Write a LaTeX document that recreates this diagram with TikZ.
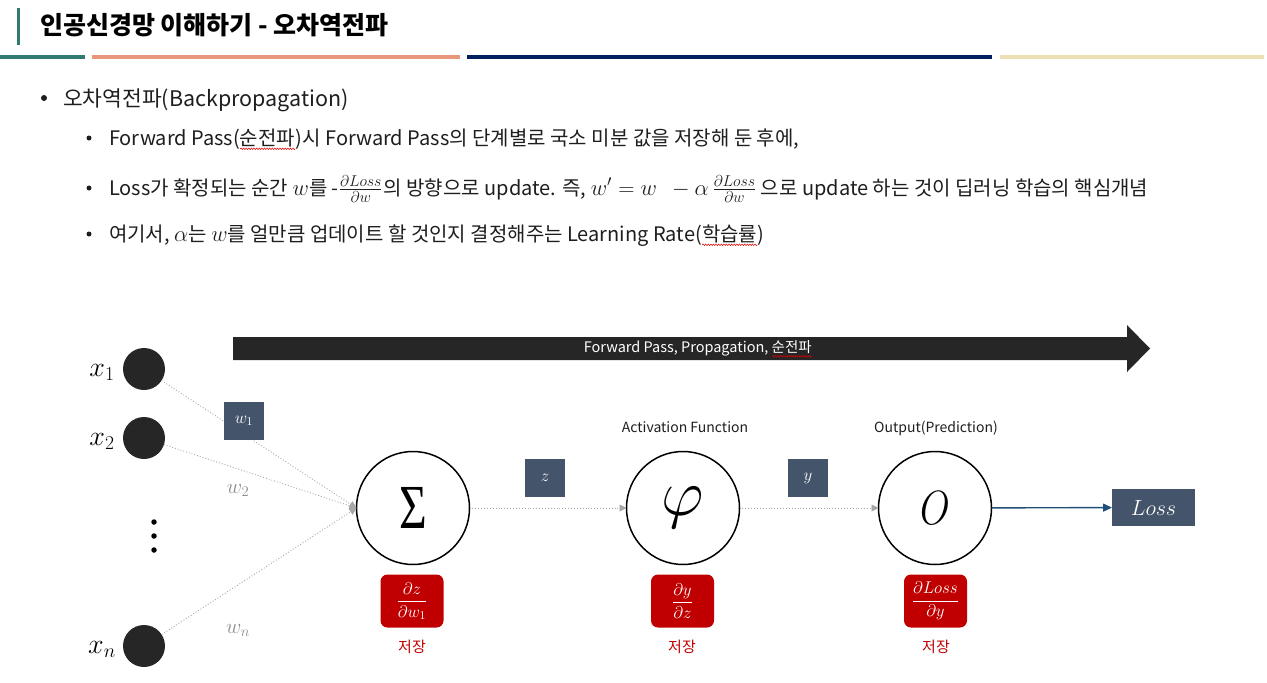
\RequirePackage{fix-cm}
\documentclass[tikz,border=0pt]{standalone}
\usepackage{fontspec}
\setmainfont{Noto Sans CJK KR}
\newfontfamily\serifgr{Liberation Serif}
\usetikzlibrary{arrows.meta,decorations.pathmorphing}
\definecolor{tealc}{HTML}{317A70}
\definecolor{salmonc}{HTML}{E9977A}
\definecolor{navyc}{HTML}{002060}
\definecolor{beigec}{HTML}{EDE0B2}
\definecolor{darkc}{HTML}{262626}
\definecolor{slatec}{HTML}{44546A}
\definecolor{redc}{HTML}{C00000}
\definecolor{txtc}{HTML}{1E1E1E}
\definecolor{linegray}{HTML}{A6A6A6}
\definecolor{wgray}{HTML}{8C8C8C}
\definecolor{lossblue}{HTML}{1F4E79}
\definecolor{wavered}{HTML}{E00000}
\newsavebox\wavebox
\newlength\wavelen
\newcommand\redwave[2][txtc]{\sbox\wavebox{\color{#1}#2}\setlength\wavelen{\wd\wavebox}\rlap{\usebox\wavebox}\tikz[baseline=0pt,x=1pt,y=1pt]\draw[wavered,line width=0.5pt,decorate,decoration={snake,amplitude=0.8pt,segment length=2.6pt}] (0pt,-3.8pt) -- (\wavelen,-3.8pt);}
\newcommand\bigfrac[2]{{\displaystyle\frac{#1}{#2}}}
\newcommand\mm[1]{{\fontsize{22.5}{22}\selectfont$#1$}}
\begin{document}
\begin{tikzpicture}[x=1pt,y=-1pt,
  every node/.style={inner sep=0pt,outer sep=0pt},
  bul1/.style={anchor=base west,font=\fontsize{21.5}{24}\selectfont,text=txtc},
  bul2/.style={anchor=base west,font=\fontsize{20}{22}\selectfont,text=txtc},
  bdot/.style={circle,fill=txtc,minimum size=#1},
  inp/.style={circle,fill=darkc,minimum size=42pt},
  vdot/.style={circle,fill=black,minimum size=5.5pt},
  xlab/.style={anchor=base,font=\fontsize{28}{28}\selectfont,text=black},
  wlab/.style={anchor=base,font=\fontsize{21}{21}\selectfont,text=wgray},
  neuron/.style={circle,draw=black,line width=1.5pt,fill=white,minimum size=113pt},
  valbox/.style={fill=slatec,text=white,minimum width=40pt,minimum height=38pt,font=\fontsize{17}{17}\selectfont},
  redbox/.style={fill=redc,text=white,rounded corners=7pt,minimum width=63pt,minimum height=53pt,font=\fontsize{17}{17}\selectfont},
  savelab/.style={anchor=base,font=\fontsize{15}{15}\selectfont,text=redc},
  toplab/.style={anchor=base,font=\fontsize{14}{14}\selectfont,text=txtc},
  flow/.style={draw=linegray,dotted,line width=0.9pt,-{Triangle[length=7pt,width=7pt,fill=linegray]}},
  ]
\useasboundingbox (0,0) rectangle (1267,683);
% title
\fill[tealc] (17,8) rectangle (20,45);
\node[anchor=base west,font=\fontsize{25}{28}\selectfont\bfseries,text=black] (title) at (40,34) {인공신경망 이해하기 - 오차역전파};
\fill[tealc] (0,55) rectangle (85,59);
\fill[salmonc] (92,55) rectangle (460,59);
\fill[navyc] (467,55) rectangle (992,59);
\fill[beigec] (1000,55) rectangle (1264,59);
% bullets
\node[bdot=6pt] (b1) at (44,98) {};
\node[bul1] (t1) at (63,106) {오차역전파(Backpropagation)};
\node[bdot=5pt] (b2) at (89,138) {};
\node[bul2] (t2) at (109,145) {Forward Pass(\redwave{순전파})시 Forward Pass의 단계별로 국소 미분 값을 저장해 둔 후에,};
\node[bdot=5pt] (b3) at (89,188) {};
\node[bul2] (t3) at (109,195) {Loss가 확정되는 순간 \mm{w}를 -\mm{\frac{\partial Loss}{\partial w}}\kern1pt의 방향으로 update. 즉, \mm{w' = w\ \ -\alpha\,\frac{\partial Loss}{\partial w}} 으로 update 하는 것이 딥러닝 학습의 핵심개념};
\node[bdot=5pt] (b4) at (89,234) {};
\node[bul2] (t4) at (109,241) {여기서, \mm{\alpha}는 \mm{w}를 얼만큼 업데이트 할 것인지 결정해주는 Learning Rate(\redwave{학습률})};
% forward arrow
\fill[darkc] (233,337) -- (1127,337) -- (1127,325) -- (1150,348.5) -- (1127,372) -- (1127,360) -- (233,360) -- cycle;
\node[anchor=base,font=\fontsize{14.5}{14.5}\selectfont,text=white] (fwd) at (698,352.5) {Forward Pass, Propagation, \redwave[white]{순전파}};
% inputs
\node[inp] (x1) at (144,369) {};
\node[inp] (x2) at (144,438) {};
\node[inp] (xn) at (144,646) {};
\node[xlab] (lx1) at (102,376) {$x_1$};
\node[xlab] (lx2) at (102,445) {$x_2$};
\node[xlab] (lxn) at (102,653) {$x_n$};
\node[vdot] (d1) at (154,522) {};
\node[vdot] (d2) at (154,536) {};
\node[vdot] (d3) at (154,550) {};
% neurons
\node[neuron] (sum) at (413,508) {\scalebox{0.85}[1.12]{\fontsize{56}{56}\serifgr Σ}};
\node[neuron] (phi) at (683,508) {\fontsize{66}{66}\selectfont$\varphi$};
\node[neuron] (out) at (935,508) {\scalebox{0.8}[1]{\fontsize{48}{48}\selectfont$O$}};
\node[fill=slatec,text=white,minimum width=83pt,minimum height=37pt,font=\fontsize{22}{22}\selectfont] (loss) at (1153.5,507.5) {$Loss$\hspace{4pt}};
% connectors
\draw[flow] (x1) -- (sum.west);
\draw[flow] (x2) -- (sum.west);
\draw[flow] (xn) -- (sum.west);
\draw[flow] (sum) -- (phi);
\draw[flow] (phi) -- (out);
\draw[lossblue,line width=1.4pt,-{Triangle[length=9pt,width=8pt]}] (out) -- (loss);
% value boxes
\node[valbox] (w1) at (244,421) {$w_1$};
\node[wlab] (w2) at (238,493) {$w_2$};
\node[wlab] (wn) at (238,633) {$w_n$};
\node[valbox] (zb) at (545,478) {$z$};
\node[valbox] (yb) at (808,478) {$y$};
% labels
\node[toplab] (actl) at (685,432) {Activation Function};
\node[toplab] (outl) at (936,432) {Output(Prediction)};
% red boxes
\node[redbox] (r1) at (412,601) {$\bigfrac{\partial z}{\partial w_1}$};
\node[redbox] (r2) at (682.5,601) {$\bigfrac{\partial y}{\partial z}$};
\node[redbox] (r3) at (935.5,601) {$\bigfrac{\partial Loss}{\partial y}$};
\node[savelab] (s1) at (412,652.5) {저장};
\node[savelab] (s2) at (682,652.5) {저장};
\node[savelab] (s3) at (936,652.5) {저장};
\end{tikzpicture}
\end{document}
